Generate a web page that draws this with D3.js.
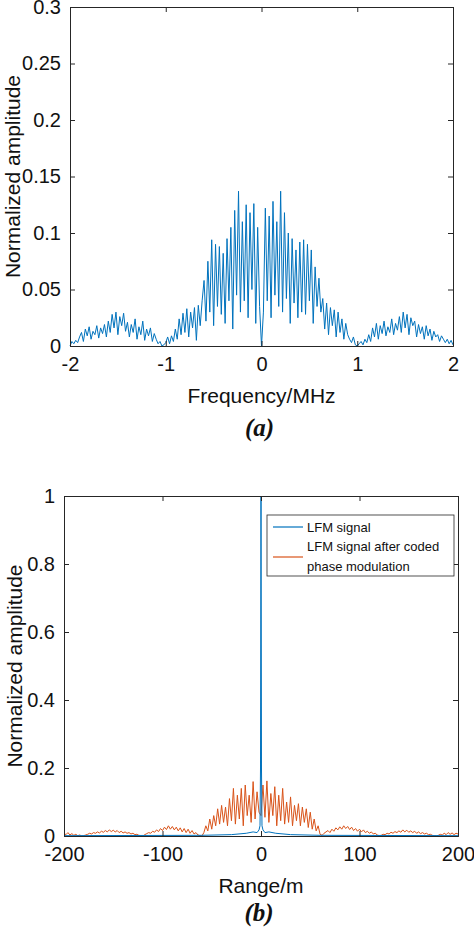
<!DOCTYPE html>
<html><head><meta charset="utf-8">
<script src="https://cdn.jsdelivr.net/npm/d3@7"></script>
<style>body{margin:0;background:#fff}svg{display:block}</style>
</head><body>
<svg id="c" width="474" height="931"></svg>
<script>
// ---- Data ----
const freqDomain = [-2, 2];
const freqTicks = [-2, -1, 0, 1, 2];
const ampTicksA = [0, 0.05, 0.1, 0.15, 0.2, 0.25, 0.3];
const spectrumLeft = [
0.000,0.004,0.002,0.005,0.003,
0.008,0.012,0.004,0.015,0.009,0.017,0.006,0.013,0.010,0.018,0.007,0.016,0.011,0.019,0.008,
0.022,0.012,0.028,0.016,0.030,0.010,0.026,0.018,0.029,0.013,
0.021,0.008,0.019,0.012,0.024,0.006,0.017,0.010,0.022,0.005,0.015,0.009,0.016,0.004,0.011,
0.006,0.002,0.004,0.000,0.001,0.003,0.008,0.002,0.009,0.004,
0.015,0.006,0.024,0.010,0.029,0.012,0.033,0.008,0.030,0.016,0.034,0.005,0.036,0.018,0.040,
0.058,0.022,0.075,0.030,0.094,0.018,0.090,0.035,0.088,0.028,
0.082,0.020,0.095,0.040,0.105,0.015,0.120,0.045,0.137,0.030,
0.110,0.040,0.125,0.025,0.118,0.050,0.126,0.020,0.105,0.035,0.000];
const spectrumRight = [
0.030,0.122,0.040,0.115,0.025,0.128,0.045,0.110,0.035,0.137,
0.030,0.118,0.042,0.100,0.020,0.095,0.038,0.085,0.025,0.092,
0.030,0.094,0.028,0.090,0.040,0.085,0.020,0.070,0.035,0.060,
0.030,0.042,0.015,0.038,0.010,0.034,0.018,0.032,0.008,0.030,0.012,0.024,0.006,0.020,0.010,
0.006,0.003,0.008,0.001,0.000,0.002,0.004,0.001,0.006,0.003,
0.010,0.004,0.016,0.008,0.020,0.006,0.018,0.011,0.022,0.009,0.017,0.012,0.024,0.010,0.020,
0.014,0.026,0.012,0.030,0.016,0.028,0.010,0.025,0.018,0.022,
0.008,0.019,0.011,0.017,0.006,0.018,0.009,0.015,0.005,0.013,0.008,0.010,0.004,0.009,0.006,
0.003,0.006,0.002,0.005,0.001];

const rangeDomain = [-200, 200];
const rangeTicks = [-200, -100, 0, 100, 200];
const ampTicksB = [0, 0.2, 0.4, 0.6, 0.8, 1];
const codedLeft = [
0.008,0.004,0.010,0.003,0.007,0.002,0.005,0.001,0.003,0.000,0.001,
0.003,0.005,0.008,0.006,0.010,0.008,0.012,0.009,0.014,0.011,0.016,0.012,0.018,0.013,0.017,0.012,0.016,0.010,0.014,0.009,0.012,0.008,0.010,0.006,0.008,0.004,0.005,0.002,0.001,
0.000,0.004,0.007,0.010,0.008,0.014,0.011,0.018,0.013,0.022,0.016,0.026,0.019,0.030,0.020,0.028,0.018,0.026,0.015,0.024,0.012,0.022,0.010,0.020,0.008,0.016,0.006,0.010,0.003,0.001,
0.000,0.010,0.030,0.015,0.050,0.020,0.060,0.030,0.080,0.035,0.090,0.040,0.085,0.030,0.110,0.045,0.140,0.035,0.120,0.050,0.140,0.030,0.150,0.060,0.120,0.040,0.160,0.050,0.130,0.070,0.060];
const codedRight = [
0.150,0.055,0.162,0.040,0.125,0.060,0.145,0.030,0.120,0.045,0.140,0.035,0.100,0.040,0.115,0.030,0.090,0.045,0.095,0.030,0.085,0.040,0.080,0.025,0.070,0.020,0.050,0.015,0.030,0.005,
0.002,0.008,0.012,0.016,0.010,0.020,0.014,0.024,0.018,0.027,0.020,0.030,0.022,0.028,0.019,0.026,0.016,0.022,0.014,0.020,0.012,0.018,0.010,0.014,0.008,0.012,0.006,0.008,0.003,0.001,
0.002,0.005,0.004,0.008,0.006,0.011,0.008,0.013,0.010,0.015,0.011,0.018,0.012,0.017,0.011,0.015,0.010,0.014,0.008,0.012,0.007,0.010,0.006,0.008,0.004,0.005,0.002,0.001,0.000,
0.002,0.005,0.003,0.008,0.004,0.010,0.005,0.009,0.004,0.008,0.006];
const lfmX = [-200,-60,-30,-15,-8,-4,-2,-1,-0.5,0,0.5,1,2,4,8,15,30,60,200];
const lfmY = [0.001,0.002,0.004,0.008,0.012,0.010,0.018,0.030,0.200,1.000,0.200,0.030,0.018,0.010,0.012,0.008,0.004,0.002,0.001];
const legendLabels = ["LFM signal", ["LFM signal after coded", "phase modulation"]];

// ---- Drawing ----
const BLUE = "#0072BD", ORANGE = "#D95319", AX = "#262626";
const FONT = "'Liberation Sans', Arial, sans-serif";
const svg = d3.select("#c");

function panel(cfg){
  const g = svg.append("g");
  const x = d3.scaleLinear().domain(cfg.xd).range([cfg.l, cfg.r]);
  const y = d3.scaleLinear().domain(cfg.yd).range([cfg.b, cfg.t]);
  cfg.series.forEach(s=>{
    g.append("path").datum(s.pts).attr("fill","none").attr("stroke",s.color)
      .attr("stroke-width",1).attr("stroke-linejoin","round")
      .attr("d", d3.line().x(d=>x(d[0])).y(d=>y(d[1])));
  });
  const tk = 5;
  const fmt = d => String(d);
  const ax = (gen, tr) => {
    const a = g.append("g").attr("transform",tr).call(gen);
    a.select(".domain").attr("stroke",AX);
    a.selectAll("line").attr("stroke",AX);
    a.selectAll("text").attr("fill","#111").style("font-family",FONT).style("font-size","20px");
    return a;
  };
  ax(d3.axisBottom(x).tickValues(cfg.xt).tickSize(-tk).tickPadding(tk+6).tickFormat(fmt), `translate(0,${cfg.b})`);
  ax(d3.axisTop(x).tickValues(cfg.xt).tickSize(-tk).tickFormat(""), `translate(0,${cfg.t})`);
  ax(d3.axisLeft(y).tickValues(cfg.yt).tickSize(-tk).tickPadding(tk+4).tickFormat(fmt), `translate(${cfg.l},0)`);
  ax(d3.axisRight(y).tickValues(cfg.yt).tickSize(-tk).tickFormat(""), `translate(${cfg.r},0)`);
  g.append("text").attr("x",(cfg.l+cfg.r)/2).attr("y",cfg.xlabY).attr("text-anchor","middle")
    .style("font-family",FONT).style("font-size","21px").attr("fill","#111").text(cfg.xlab);
  g.append("text").attr("transform",`translate(${cfg.ylabX},${(cfg.t+cfg.b)/2}) rotate(-90)`)
    .attr("text-anchor","middle").attr("dominant-baseline","central")
    .style("font-family",FONT).style("font-size","21px").attr("fill","#111").text("Normalized amplitude");
  g.append("text").attr("x",(cfg.l+cfg.r)/2 - 2).attr("y",cfg.capY).attr("text-anchor","middle")
    .style("font-family","'Liberation Serif', 'Times New Roman', serif").style("font-size","25px")
    .style("font-weight","bold").style("font-style","italic").attr("fill","#111").text(cfg.cap);
  return {g,x,y};
}

const specVals = spectrumLeft.concat(spectrumRight);
const fx = d3.scaleLinear().domain([0, specVals.length-1]).range(freqDomain);
panel({xd:freqDomain, yd:[0,0.3], l:70, r:453, t:7, b:346, xt:freqTicks, yt:ampTicksA,
  xlab:"Frequency/MHz", xlabY:403, ylabX:12, cap:"(a)", capY:436,
  series:[{color:BLUE, pts:specVals.map((v,i)=>[fx(i),v])}]});

const codedVals = codedLeft.concat(codedRight);
const rx = d3.scaleLinear().domain([0, codedVals.length-1]).range(rangeDomain);
const pb = panel({xd:rangeDomain, yd:[0,1], l:64, r:458, t:496, b:836, xt:rangeTicks, yt:ampTicksB,
  xlab:"Range/m", xlabY:893, ylabX:14, cap:"(b)", capY:921,
  series:[{color:ORANGE, pts:codedVals.map((v,i)=>[rx(i),v])},
          {color:BLUE, pts:lfmX.map((v,i)=>[v,lfmY[i]])}]});

// legend
const lg = pb.g.append("g").attr("transform","translate(267,515)");
lg.append("rect").attr("width",187).attr("height",61).attr("fill","#fff").attr("stroke",AX).attr("stroke-width",0.8);
lg.append("line").attr("x1",6).attr("x2",36).attr("y1",12).attr("y2",12).attr("stroke",BLUE).attr("stroke-width",1.2);
lg.append("line").attr("x1",6).attr("x2",36).attr("y1",42).attr("y2",42).attr("stroke",ORANGE).attr("stroke-width",1.2);
const lt = (yy, t) => lg.append("text").attr("x",40).attr("y",yy).attr("dominant-baseline","central")
  .style("font-family",FONT).style("font-size","13px").attr("fill","#111").text(t);
lt(12, legendLabels[0]); lt(31, legendLabels[1][0]); lt(51, legendLabels[1][1]);
</script>
</body></html>
